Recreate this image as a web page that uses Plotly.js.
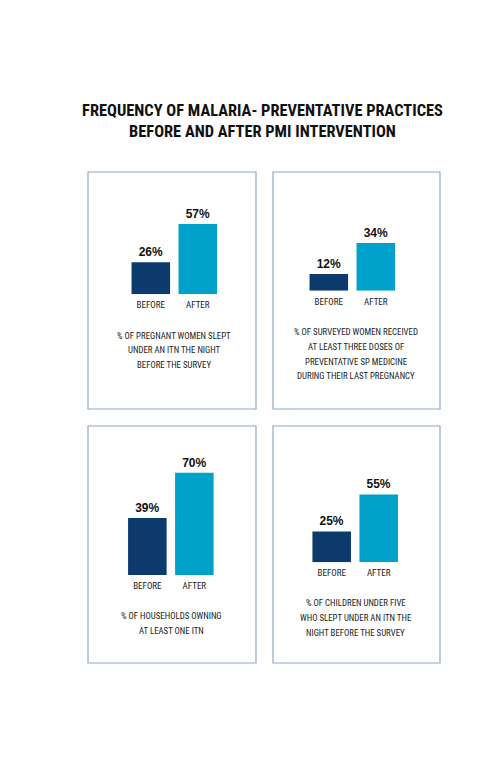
<!DOCTYPE html>
<html><head><meta charset="utf-8">
<script src="https://cdn.plot.ly/plotly-3.0.1.min.js"></script>
<style>html,body{margin:0;padding:0;background:#fff}</style>
</head><body>
<div id="chart" style="width:500px;height:773px"></div>
<script>
// ---- data ----
const categories = ['BEFORE', 'AFTER'];
const pregnantWomenITN = [26, 57];
const pregnantWomenSP = [12, 34];
const householdsITN = [39, 70];
const childrenITN = [25, 55];
const desc1 = ['% OF PREGNANT WOMEN SLEPT', 'UNDER AN ITN THE NIGHT', 'BEFORE THE SURVEY'];
const desc2 = ['% OF SURVEYED WOMEN RECEIVED', 'AT LEAST THREE DOSES OF', 'PREVENTATIVE SP MEDICINE', 'DURING THEIR LAST PREGNANCY'];
const desc3 = ['% OF HOUSEHOLDS OWNING', 'AT LEAST ONE ITN'];
const desc4 = ['% OF CHILDREN UNDER FIVE', 'WHO SLEPT UNDER AN ITN THE', 'NIGHT BEFORE THE SURVEY'];
const titleLines = ['FREQUENCY OF MALARIA- PREVENTATIVE PRACTICES', 'BEFORE AND AFTER PMI INTERVENTION'];

// ---- styling / layout ----
const W = 500, H = 773;
const NAVY = '#0c3a6c', LIGHT = '#00a2cb', BORDER = '#8fa7c9';
const NARROW = "'Roboto Condensed', 'DejaVu Sans Condensed', sans-serif";
const px = v => v / W, py = v => 1 - v / H;

const panels = [
  {vals: pregnantWomenITN, desc: desc1, box: [88, 172, 256, 409], xc: 174.3, base: 294.3, scale: 1.234, dx: 174, dy: 335.7},
  {vals: pregnantWomenSP, desc: desc2, box: [273, 172, 440, 409], xc: 352.3, base: 290.7, scale: 1.402, dx: 356.3, dy: 332.3},
  {vals: householdsITN, desc: desc3, box: [88, 426, 256, 663], xc: 170.85, base: 575, scale: 1.459, dx: 171.8, dy: 616},
  {vals: childrenITN, desc: desc4, box: [273, 426, 440, 663], xc: 355.2, base: 562.3, scale: 1.234, dx: 355.8, dy: 603.3}
];
const SPACING = 47, DOMH = 130, LINEH = 14.6;

const traces = [], shapes = [], annotations = [];
const layout = {
  width: W, height: H, margin: {l: 0, r: 0, t: 0, b: 0},
  paper_bgcolor: '#fff', plot_bgcolor: 'rgba(0,0,0,0)', showlegend: false,
  title: {
    text: titleLines.join('<br>'),
    font: {family: NARROW, size: 16.4, color: '#111', weight: 'bold'},
    x: px(262.5), xanchor: 'center', xref: 'container',
    y: 1 - 115.5 / H, yanchor: 'middle', yref: 'container'
  }
};

panels.forEach((p, i) => {
  const n = i + 1, sfx = n === 1 ? '' : String(n);
  traces.push({
    type: 'bar', x: categories, y: p.vals,
    xaxis: 'x' + sfx, yaxis: 'y' + sfx,
    width: 0.82,
    marker: {color: [NAVY, LIGHT], line: {width: 0}},
    text: p.vals.map(v => v + '%'), textposition: 'outside', cliponaxis: false,
    textfont: {family: "'Liberation Sans', Arial, sans-serif", size: 12, color: '#111', weight: 'bold'},
    hoverinfo: 'skip'
  });
  layout['xaxis' + sfx] = {
    domain: [px(p.xc - SPACING), px(p.xc + SPACING)], range: [-0.5, 1.5],
    anchor: 'y' + sfx, showgrid: false, zeroline: false, showline: false, ticks: '',
    ticklabelstandoff: 4,
    tickfont: {family: NARROW, size: 9, color: '#222'}, fixedrange: true
  };
  layout['yaxis' + sfx] = {
    domain: [py(p.base), py(p.base - DOMH)], range: [0, DOMH / p.scale],
    anchor: 'x' + sfx, visible: false, fixedrange: true
  };
  shapes.push({type: 'rect', xref: 'paper', yref: 'paper',
    x0: px(p.box[0]), x1: px(p.box[2]), y0: py(p.box[3]), y1: py(p.box[1]),
    line: {color: BORDER, width: 1.2}, fillcolor: 'rgba(0,0,0,0)'});
  p.desc.forEach((line, k) => {
    annotations.push({xref: 'paper', yref: 'paper', x: px(p.dx), y: py(p.dy + k * LINEH),
      xanchor: 'center', yanchor: 'middle', showarrow: false, text: line,
      font: {family: NARROW, size: 8.8, color: '#222'}});
  });
});
layout.shapes = shapes;
layout.annotations = annotations;

Plotly.newPlot('chart', traces, layout, {displayModeBar: false, staticPlot: true});
</script>
</body></html>
